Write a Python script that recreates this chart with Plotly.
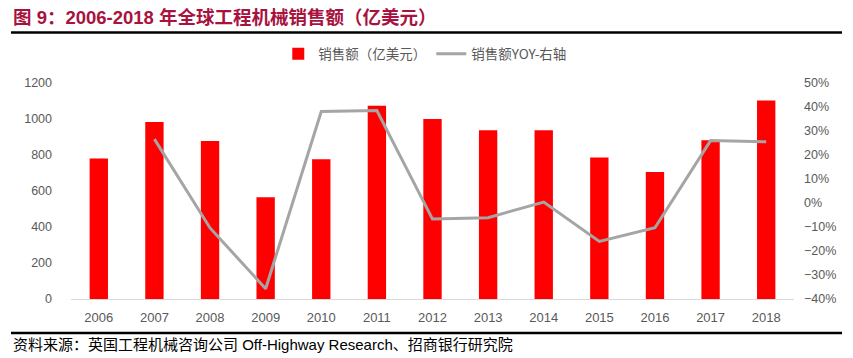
import plotly.graph_objects as go

years = ["2006", "2007", "2008", "2009", "2010", "2011", "2012",
         "2013", "2014", "2015", "2016", "2017", "2018"]
sales = [780, 983, 878, 565, 777, 1074, 1000, 937, 937, 786, 705, 882, 1103]
yoy_years = years[1:]
yoy = [0.266, -0.104, -0.357, 0.381, 0.385, -0.067, -0.061, 0.004,
       -0.160, -0.103, 0.260, 0.255]

left_ticks = [0, 200, 400, 600, 800, 1000, 1200]
right_ticks = [-0.4, -0.3, -0.2, -0.1, 0, 0.1, 0.2, 0.3, 0.4, 0.5]

title_text = "图 9：2006-2018 年全球工程机械销售额（亿美元）"
source_text = "资料来源：英国工程机械咨询公司 Off-Highway Research、招商银行研究院"

W, H = 853, 358
L, R, T, B = 71, 59, 83, 58.5

fig = go.Figure()
fig.add_trace(go.Bar(
    x=years, y=sales, name="销售额（亿美元）",
    marker=dict(color="#FF0000", line=dict(width=0)),
    yaxis="y",
))
fig.add_trace(go.Scatter(
    x=yoy_years, y=yoy, name="销售额YOY-右轴", mode="lines",
    line=dict(color="#A5A5A5", width=3),
    yaxis="y2",
))

tick_font = dict(family="Liberation Sans, Arial, sans-serif", size=12.5, color="#595959")

fig.update_layout(
    width=W, height=H,
    margin=dict(l=L, r=R, t=T, b=B, pad=0, autoexpand=False),
    paper_bgcolor="white", plot_bgcolor="white",
    bargap=0.67,
    showlegend=True,
    legend=dict(
        orientation="h", x=0.49, xanchor="center", y=1.134, yanchor="middle",
        font=dict(family="Noto Sans CJK SC, sans-serif", size=13.5, color="#595959"),
        itemwidth=30, tracegroupgap=0,
        bgcolor="rgba(0,0,0,0)",
    ),
    xaxis=dict(
        type="category", tickfont=dict(tick_font, size=13), showgrid=False,
        showline=True, linecolor="#D9D9D9", linewidth=1,
        ticks="", ticklen=0, zeroline=False, ticklabelstandoff=6,
    ),
    yaxis=dict(
        range=[0, 1200], tickvals=left_ticks, tickfont=tick_font,
        showgrid=False, zeroline=False, showline=False, ticks="",
        ticklabelstandoff=18,
    ),
    yaxis2=dict(
        overlaying="y", side="right", range=[-0.4, 0.5], tickvals=right_ticks,
        tickformat=".0%", tickfont=tick_font, showgrid=False, zeroline=False,
        showline=False, ticks="", ticklabelstandoff=9,
    ),
    font=dict(family="Noto Sans CJK SC, sans-serif"),
)


def py(px):
    return (H - B - px) / (H - T - B)


def pxx(px):
    return (px - L) / (W - L - R)


fig.add_annotation(
    text="<b>" + title_text + "</b>", xref="paper", yref="paper",
    x=pxx(11), y=py(17.5),
    xanchor="left", yanchor="middle", showarrow=False,
    font=dict(family="Liberation Sans, Noto Sans CJK SC, sans-serif", size=18.5, color="#A8123E"),
)
fig.add_annotation(
    text=source_text, xref="paper", yref="paper",
    x=pxx(11), y=py(345),
    xanchor="left", yanchor="middle", showarrow=False,
    font=dict(family="Liberation Sans, Noto Sans CJK SC, sans-serif", size=15, color="#000000"),
)

fig.add_shape(type="line", xref="paper", yref="paper",
              x0=pxx(11), x1=pxx(842), y0=py(32.5), y1=py(32.5),
              line=dict(color="#000000", width=2.5))
fig.add_shape(type="line", xref="paper", yref="paper",
              x0=pxx(11), x1=pxx(842), y0=py(333.5), y1=py(333.5),
              line=dict(color="#000000", width=2.5))

fig.write_html("out.html", config={"displayModeBar": False},
               post_script="document.body.style.margin='0';document.body.style.overflow='hidden';")
